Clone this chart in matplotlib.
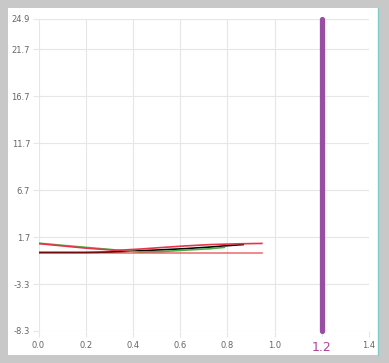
import matplotlib
matplotlib.use("Agg")
import matplotlib.pyplot as plt
from matplotlib.patches import Rectangle

W, H = 389, 363
DPI = 100

# Data
x_ticks = [0.0, 0.2, 0.4, 0.6, 0.8, 1.0, 1.2, 1.4]
x_tick_labels = ["0.0", "0.2", "0.4", "0.6", "0.8", "1.0", "1.2", "1.4"]
y_ticks = [-8.3, -3.3, 1.7, 6.7, 11.7, 16.7, 21.7, 24.9]
y_tick_labels = ["-8.3", "-3.3", "1.7", "6.7", "11.7", "16.7", "21.7", "24.9"]

green_x = [0.0, 0.1, 0.2, 0.33, 0.43, 0.52, 0.62, 0.73, 0.787]
green_y = [1.05, 0.82, 0.6, 0.32, 0.12, 0.15, 0.3, 0.46, 0.6]

black_x = [0.0, 0.2, 0.3, 0.43, 0.52, 0.62, 0.73, 0.8, 0.867]
black_y = [0.06, 0.06, 0.1, 0.24, 0.34, 0.46, 0.64, 0.78, 0.9]

red_x = [0.0, 0.1, 0.2, 0.33, 0.43, 0.52, 0.62, 0.73, 0.85, 0.946]
red_y = [1.0, 0.76, 0.52, 0.28, 0.42, 0.58, 0.75, 0.9, 0.98, 1.02]

flat_x = [0.0, 0.946]
flat_y = [0.05, 0.05]

vline_x = [1.2, 1.2]
vline_y = [-8.3, 24.9]

fig = plt.figure(figsize=(W / DPI, H / DPI), dpi=DPI, facecolor="#c8c8c8")
bg = fig.add_axes([0, 0, 1, 1], zorder=-10)
bg.set_xlim(0, W)
bg.set_ylim(H, 0)
bg.axis("off")
bg.add_patch(Rectangle((8, 8), 370, 347, facecolor="white", edgecolor="none"))
bg.plot([378.5, 378.5], [8, 355], color="#7fcfc9", lw=1.0)

left, right = 38.5 / W, 369 / W
bottom, top = 1 - 331 / H, 1 - 19 / H
ax = fig.add_axes([left, bottom, right - left, top - bottom], zorder=1)
ax.set_facecolor("none")
ax.set_xlim(0, 1.4)
ax.set_ylim(-8.3, 24.9)
for s in ax.spines.values():
    s.set_visible(False)

ax.set_xticks(x_ticks)
ax.set_xticklabels(x_tick_labels)
ax.set_yticks(y_ticks)
ax.set_yticklabels(y_tick_labels)
ax.set_axisbelow(True)
ax.grid(True, color="#e6e6e6", lw=0.8)
ax.tick_params(axis="both", length=4, width=0.8, color="#e6e6e6",
               labelsize=6, labelcolor="#666666", pad=2)
ax.tick_params(axis="x", pad=3)

for lbl in ax.get_xticklabels():
    if lbl.get_text() == "1.2":
        lbl.set_color("#b0409e")
        lbl.set_fontsize(9)

ax.plot(black_x, black_y, color="black", lw=1.2, zorder=3)
ax.plot(green_x, green_y, color="#4daf4a", lw=1.2, zorder=3)
ax.plot(flat_x, flat_y, color="#e41a1c", lw=1.2, alpha=0.6, zorder=4)
ax.plot(red_x, red_y, color="#e8334a", lw=1.2, zorder=4)
ax.plot(vline_x, vline_y, color="#984ea3", lw=3.8, solid_capstyle="round", zorder=5,
        clip_on=False)

fig.savefig("out.png", dpi=DPI, facecolor=fig.get_facecolor())
